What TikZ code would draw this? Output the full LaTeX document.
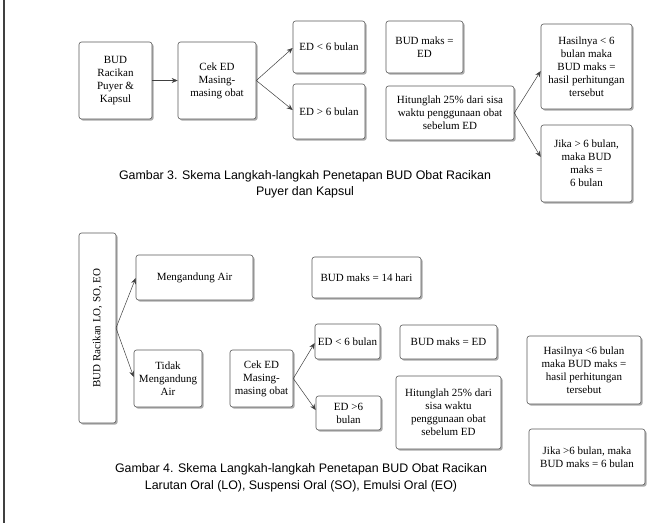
\documentclass[tikz,border=0pt]{standalone}
\usepackage{fontspec}
\setmainfont{Liberation Serif}
\newfontfamily\capfont{Liberation Sans}
\usetikzlibrary{shadows,arrows.meta}
\tikzset{
  box/.style={draw=gray!70!black, line width=0.6pt, fill=white, rounded corners=2.5pt,
    align=center, inner sep=1pt, font=\fontsize{11}{13}\selectfont,
    drop shadow={shadow xshift=1.6pt, shadow yshift=-1.6pt, fill=gray!65, opacity=1}},
  arr/.style={draw=black!75, line width=0.5pt, -{Stealth[length=6pt,width=5pt]}},
  captext/.style={font=\capfont\fontsize{12.4}{16.5}\selectfont, align=center}
}
\newcommand\bx[6]{\node[box, minimum width={(#4-#2)*1pt}, minimum height={(#5-#3)*1pt}] (#1) at ({(#2+#4)/2},{(#3+#5)/2}) {#6};}
\begin{document}
\begin{tikzpicture}[x=1pt,y=-1pt]
\useasboundingbox (0,0) rectangle (662,523);
\fill[white] (0,0) rectangle (662,523);
\draw[line width=2pt, black!75] (4,0) -- (4,523);
% Figure 3
\bx{A}{79}{42}{152}{119}{BUD\\Racikan\\Puyer \&\\Kapsul}
\bx{B}{178}{42}{256}{119}{Cek ED\\Masing-\\masing obat}
\bx{C}{293}{21}{365}{73}{ED < 6 bulan}
\bx{D}{293}{84}{365}{139}{ED > 6 bulan}
\bx{E}{386}{21}{463}{73}{BUD maks =\\ED}
\bx{F}{386}{86}{514}{140}{Hitunglah 25\% dari sisa\\waktu penggunaan obat\\sebelum ED}
\bx{G}{541}{24}{632}{109}{Hasilnya < 6\\bulan maka\\BUD maks =\\hasil perhitungan\\tersebut}
\bx{H}{541}{125}{632}{202}{Jika > 6 bulan,\\maka BUD\\maks =\\6 bulan}
\draw[arr] (A.east) -- (B.west);
\draw[arr] (B.east) -- (C.west |- 0,48);
\draw[arr] (B.east) -- (D.west |- 0,110);
\draw[arr] (F.east) -- (G.west |- 0,71);
\draw[arr] (F.east) -- (H.west |- 0,157);
\node[captext] (cap3) at (305,184.5) {Gambar 3. Skema Langkah-langkah Penetapan BUD Obat Racikan\\Puyer dan Kapsul};
% Figure 4
\node[box, rotate=90, minimum width=190pt, minimum height=37pt] (I) at (97.5,328) {BUD Racikan LO, SO, EO};
\bx{J}{136}{255}{253}{300}{Mengandung Air}
\bx{K}{134}{350}{202}{407}{Tidak\\Mengandung\\Air}
\bx{L}{230}{350}{293}{407}{Cek ED\\Masing-\\masing obat}
\bx{M}{312}{257}{421}{298}{BUD maks = 14 hari}
\bx{N}{315}{324}{380}{359}{ED < 6 bulan}
\bx{O}{316}{396}{381}{430}{ED >6\\bulan}
\bx{P}{400}{325}{497}{359}{BUD maks = ED}
\bx{Q}{396}{376}{501}{449}{Hitunglah 25\% dari\\sisa waktu\\penggunaan obat\\sebelum ED}
\bx{R}{527}{336}{641}{404}{Hasilnya <6 bulan\\maka BUD maks =\\hasil perhitungan\\tersebut}
\bx{S}{529}{429}{645}{485}{Jika >6 bulan, maka\\BUD maks = 6 bulan}
\coordinate (Iout) at (116,328);
\draw[arr] (Iout) -- (J.west |- 0,278);
\draw[arr] (Iout) -- (K.west |- 0,377);
\draw[arr] (L.east) -- (N.west |- 0,343);
\draw[arr] (L.east) -- (O.west |- 0,410);
\node[captext] (cap4) at (301,478) {Gambar 4. Skema Langkah-langkah Penetapan BUD Obat Racikan\\Larutan Oral (LO), Suspensi Oral (SO), Emulsi Oral (EO)};
\end{tikzpicture}
\end{document}
